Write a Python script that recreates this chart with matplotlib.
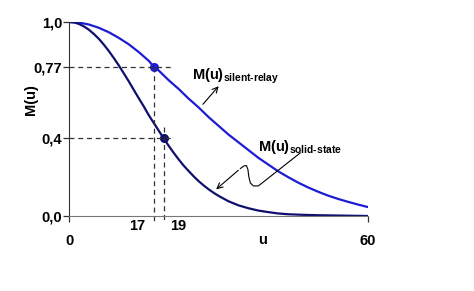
import numpy as np
import matplotlib
matplotlib.use("Agg")
import matplotlib.pyplot as plt

plt.rcParams['font.family'] = ['Liberation Sans', 'DejaVu Sans']
plt.rcParams['font.weight'] = 'bold'
plt.rcParams['mathtext.fontset'] = 'custom'
plt.rcParams['mathtext.bf'] = 'Liberation Sans:bold'
plt.rcParams['mathtext.rm'] = 'Liberation Sans:bold'

# silent-relay curve
u_relay = [0, 2, 4, 6, 8, 10, 12, 14, 16, 17, 18, 20, 22, 24, 26, 28, 30, 32, 34, 36,
           38, 40, 42, 44, 46, 48, 50, 52, 54, 56, 58, 60]
m_relay = [1.0, 0.997, 0.987, 0.97, 0.947, 0.918, 0.885, 0.845, 0.80, 0.77, 0.75, 0.70,
           0.655, 0.605, 0.56, 0.51, 0.465, 0.42, 0.38, 0.34, 0.30, 0.265, 0.23, 0.20,
           0.172, 0.147, 0.125, 0.105, 0.088, 0.073, 0.059, 0.046]

# solid-state curve
u_solid = [0, 1, 2, 3, 4, 5, 6, 7, 8, 9, 10, 11, 12, 13, 14, 15, 16, 17, 18, 19, 20,
           21, 22, 23, 24, 25, 26, 27, 28, 29, 30, 32, 34, 36, 38, 40, 42, 44, 47,
           50, 55, 60]
m_solid = [1.0, 0.998, 0.99, 0.977, 0.96, 0.938, 0.913, 0.883, 0.85, 0.814, 0.776,
           0.735, 0.694, 0.65, 0.607, 0.565, 0.52, 0.48, 0.44, 0.40, 0.362, 0.326,
           0.292, 0.26, 0.232, 0.205, 0.18, 0.158, 0.138, 0.12, 0.104, 0.076, 0.055,
           0.04, 0.028, 0.02, 0.013, 0.009, 0.006, 0.004, 0.002, 0.0]

y_ticks = [0.0, 0.4, 0.77, 1.0]
y_labels = ["0,0", "0,4", "0,77", "1,0"]

c_relay = "#1c1cd4"
c_solid = "#0f0f6e"
fs = 10.5

fig = plt.figure(figsize=(4.74, 2.91), dpi=100)
ax = fig.add_axes([69 / 474, 1 - 216 / 291, (368 - 69) / 474, (216 - 22) / 291])

ax.plot(u_relay, m_relay, color=c_relay, lw=1.6)
ax.plot(u_solid, m_solid, color=c_solid, lw=1.6)

ax.plot([17], [0.77], 'o', color=c_relay, ms=5.5)
ax.plot([19], [0.4], 'o', color=c_solid, ms=5.5)

# dashed guides
dash = dict(ls=(0, (4, 3)), color="#333333", lw=0.9, clip_on=False)
ax.plot([0, 20.8], [0.77, 0.77], **dash)
ax.plot([0, 20.6], [0.4, 0.4], **dash)
ax.plot([17, 17], [0.77, -0.03], **dash)
ax.plot([19, 19], [0.46, -0.03], **dash)

ax.set_xlim(0, 60)
ax.set_ylim(0, 1)
ax.spines['top'].set_visible(False)
ax.spines['right'].set_visible(False)
ax.spines['left'].set_color("#333333")
ax.spines['bottom'].set_color("#777777")

ax.set_yticks(y_ticks)
ax.set_yticklabels(y_labels, fontsize=fs, fontweight='bold')
ax.tick_params(axis='y', length=4, width=0.9, color="#333333", pad=1)
ax.set_xticks([0, 60])
ax.set_xticklabels(["0", "60"], fontsize=fs, fontweight='bold')
ax.tick_params(axis='x', length=4, width=0.9, color="#333333", pad=9)

ax.text(15.4, -0.015, "17", ha='right', va='top', fontsize=fs, fontweight='bold')
ax.text(20.3, -0.015, "19", ha='left', va='top', fontsize=fs, fontweight='bold')
ax.text(38.8, -0.09, "u", ha='center', va='top', fontsize=fs, fontweight='bold')

ax.set_ylabel("M(u)", fontsize=fs, fontweight='bold')
ax.yaxis.set_label_coords(-0.105, 0.6)

# labels with arrows
ax.text(24.6, 0.705, r"M(u)$_{\mathbf{silent}\text{-}\mathbf{relay}}$", fontsize=fs, fontweight='bold')
ax.annotate("", xy=(30.4, 0.68), xytext=(26.5, 0.565),
            arrowprops=dict(arrowstyle="->", color="black", lw=0.8))

ax.text(38.0, 0.335, r"M(u)$_{\mathbf{solid}\text{-}\mathbf{state}}$", fontsize=fs, fontweight='bold')
sq_u = [46.4, 38.0, 37.0, 36.4, 36.1, 35.9, 35.6, 35.1, 34.4]
sq_m = [0.325, 0.155, 0.155, 0.17, 0.20, 0.24, 0.26, 0.258, 0.245]
ax.plot(sq_u, sq_m, color="black", lw=0.8)
ax.annotate("", xy=(29.1, 0.128), xytext=(34.4, 0.245),
            arrowprops=dict(arrowstyle="->", color="black", lw=0.8))

fig.savefig("out.png", dpi=100)
